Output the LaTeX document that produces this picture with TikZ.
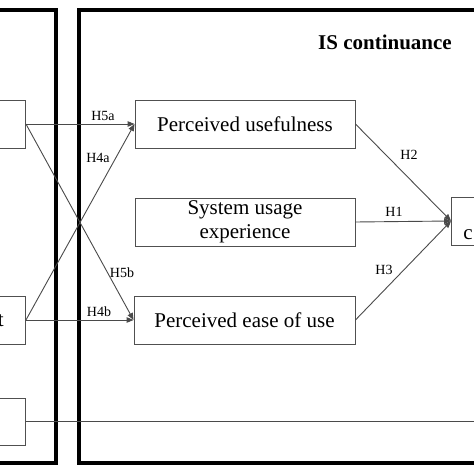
\documentclass[tikz,border=0pt]{standalone}
\usepackage{fontspec}
\setmainfont{Liberation Serif}
\usetikzlibrary{arrows.meta}
\definecolor{boxgray}{HTML}{505050}
\definecolor{linegray}{HTML}{4A4A4A}
\begin{document}
\begin{tikzpicture}[x=1bp,y=-1bp,
  frame/.style={draw=black,line width=3.2bp},
  cbox/.style={draw=boxgray,line width=0.9bp,rectangle,inner sep=0pt,align=center,
    font=\fontsize{21bp}{24bp}\selectfont},
  hlab/.style={font=\fontsize{14bp}{16bp}\selectfont,inner sep=0pt},
  conn/.style={draw=linegray,line width=0.9bp},
  arr/.style={conn,-{Triangle[length=7bp,width=5.5bp]}},
  ]
\useasboundingbox (0,0) rectangle (474,474);
\clip (0,0) rectangle (474,474);
% frames
\draw[frame] (-10,10) rectangle (56,463);
\draw[frame] (79,10) rectangle (500,463);
\node[font=\fontsize{21bp}{24bp}\selectfont\bfseries] (title) at (385,42) {IS continuance};
% left boxes
\node[cbox,minimum width=70bp,minimum height=48bp] (b1) at (-9.5,124) {};
\node[cbox,minimum width=70bp,minimum height=48bp] (b2) at (-9.5,320) {};
\node[cbox,minimum width=70bp,minimum height=47bp] (b3) at (-9.5,421.5) {};
\node[font=\fontsize{21bp}{24bp}\selectfont,anchor=east,inner sep=0pt] (tt) at (3.8,320.5) {t};
% middle boxes
\node[cbox,minimum width=220bp,minimum height=48bp] (pu) at (245,124) {Perceived usefulness};
\node[cbox,minimum width=220bp,minimum height=48bp] (sue) at (245,222) {System usage\\experience};
\node[cbox,minimum width=221bp,minimum height=48bp] (peou) at (244.5,320) {Perceived ease of use};
% right box
\node[cbox,minimum width=110bp,minimum height=48bp] (ci) at (506.5,221) {};
\node[font=\fontsize{21bp}{24bp}\selectfont,inner sep=0pt] (cc) at (468,235) {c};
\coordinate (bend) at (480,421.5);
% connectors
\draw[arr] (b1.east) -- (pu.west);
\draw[arr] (b1.east) -- (peou.west);
\draw[arr] (b2.east) -- (pu.west);
\draw[arr] (b2.east) -- (peou.west);
\draw[conn] (b3.east) -- (bend);
\draw[arr] (pu.east) -- (ci.west);
\draw[arr] (sue.east) -- (ci.west);
\draw[arr] (peou.east) -- (ci.west);
% labels
\node[hlab] (h5a) at (103,116) {H5a};
\node[hlab] (h4a) at (98,158) {H4a};
\node[hlab] (h5b) at (122,273) {H5b};
\node[hlab] (h4b) at (99,312) {H4b};
\node[hlab] (h2) at (409,155) {H2};
\node[hlab] (h1) at (394,212) {H1};
\node[hlab] (h3) at (384,270) {H3};
\end{tikzpicture}
\end{document}
